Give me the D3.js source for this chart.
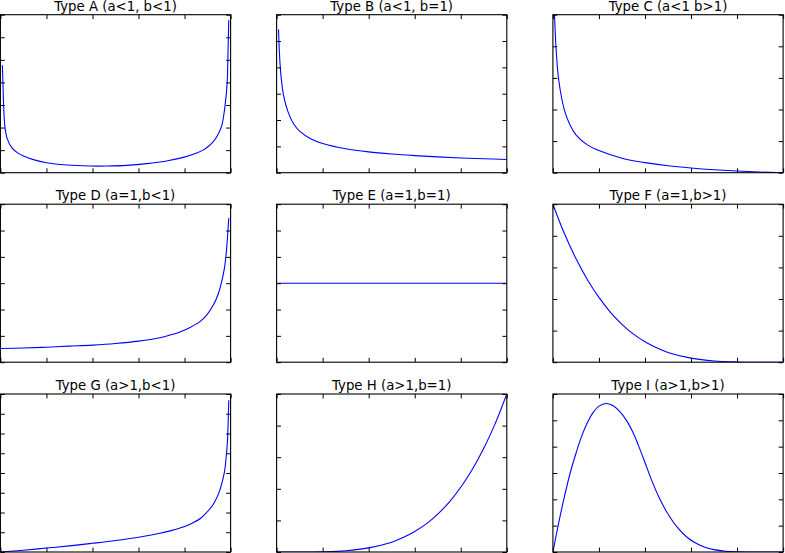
<!DOCTYPE html>
<html><head><meta charset="utf-8">
<script src="https://cdn.jsdelivr.net/npm/d3@7"></script>
<style>body{margin:0;background:#fff}svg{display:block}</style>
</head><body><div id="chart"></div>
<script>
const titles = ["Type A (a<1, b<1)","Type B (a<1, b=1)","Type C (a<1 b>1)","Type D (a=1,b<1)","Type E (a=1,b=1)","Type F (a=1,b>1)","Type G (a>1,b<1)","Type H (a>1,b=1)","Type I (a>1,b>1)"];

const xA = [0.0084,0.011,0.014,0.02,0.03,0.05,0.075,0.1,0.143,0.2,0.288,0.389,0.462,0.549,0.636,0.722,0.795,0.85,0.88,0.9,0.925,0.945,0.961,0.976,0.985,0.988,0.992];
const yA = [2.38,2.0,1.49,1.0,0.75,0.55,0.44,0.37,0.29,0.22,0.17,0.148,0.148,0.162,0.2,0.26,0.34,0.43,0.5,0.57,0.69,0.84,1.03,1.49,1.99,2.5,3.38];
const xB = [0.0084,0.012,0.016,0.02,0.03,0.05,0.075,0.1,0.15,0.2,0.3,0.4,0.5,0.6,0.7,0.8,0.9,1.0];
const yB = [5.44,4.6,4.0,3.6,2.95,2.3,1.84,1.58,1.28,1.11,0.91,0.79,0.71,0.65,0.6,0.56,0.53,0.5];
const xC = [0.007,0.01,0.015,0.025,0.05,0.075,0.1,0.15,0.2,0.3,0.4,0.5,0.6,0.7,0.8,0.9,1.0];
const yC = [5.0,4.45,3.8,2.95,1.98,1.5,1.2,0.88,0.70,0.46,0.32,0.22,0.15,0.095,0.053,0.02,0];
const xD = [0,0.1,0.2,0.3,0.4,0.5,0.6,0.693,0.737,0.78,0.824,0.867,0.896,0.925,0.947,0.961,0.973,0.98,0.986,0.989,0.992];
const yD = [0.52,0.54,0.57,0.61,0.65,0.71,0.8,0.93,1.03,1.15,1.32,1.54,1.79,2.17,2.61,3.05,3.56,4.06,4.69,5.07,5.47];
const xE = [0,1];
const yE = [1,1];
const xF = [0,0.05,0.1,0.15,0.2,0.25,0.3,0.35,0.4,0.45,0.5,0.6,0.7,0.8,0.9,1.0];
const yF = [5.0,4.07,3.28,2.61,2.05,1.58,1.2,0.89,0.65,0.46,0.31,0.13,0.04,0.008,0,0];
const xG = [0,0.1,0.2,0.3,0.4,0.5,0.6,0.693,0.737,0.78,0.824,0.867,0.896,0.925,0.947,0.961,0.973,0.98,0.986,0.989,0.992];
const yG = [0,0.09,0.2,0.31,0.44,0.58,0.75,0.95,1.07,1.21,1.41,1.68,2.0,2.42,2.93,3.44,4.03,4.71,5.56,6.4,7.68];
const xH = [0,0.1,0.2,0.3,0.4,0.5,0.55,0.6,0.65,0.7,0.75,0.8,0.85,0.9,0.95,1.0];
const yH = [0,0,0.008,0.04,0.13,0.31,0.46,0.65,0.89,1.2,1.58,2.05,2.61,3.28,4.07,5.0];
const xI = [0,0.025,0.05,0.075,0.1,0.125,0.15,0.175,0.2,0.231,0.26,0.29,0.321,0.35,0.371,0.4,0.43,0.465,0.5,0.538,0.58,0.62,0.66,0.7,0.75,0.8,0.85,1.0];
const yI = [0,0.55,1.05,1.5,1.87,2.2,2.46,2.65,2.77,2.82,2.78,2.67,2.49,2.25,2.03,1.7,1.35,1.0,0.72,0.48,0.29,0.17,0.09,0.045,0.015,0.004,0,0];

const yMin  = [0,0,0,0,0.94,0,0,0,0];
const yMax  = [3.5,6,5,6,1.06,5,8,5,3];
const yStep = [0.5,1,1,1,0.02,1,1,1,0.5];
const xTicks = [0,0.2,0.4,0.6,0.8,1.0];

const series = [[xA,yA],[xB,yB],[xC,yC],[xD,yD],[xE,yE],[xF,yF],[xG,yG],[xH,yH],[xI,yI]];

const W = 785, H = 553;
const colX = [0.4, 276.6, 552.9], pw = 230.2;
const rowY = [14.7, 204.2, 394], ph = 158;
const tickLen = 4.4;

const svg = d3.select("#chart").append("svg").attr("width", W).attr("height", H);
svg.append("rect").attr("width", W).attr("height", H).attr("fill", "#fff");

series.forEach(([xs, ys], i) => {
  const c = i % 3, r = Math.floor(i / 3);
  const g = svg.append("g").attr("transform", `translate(${colX[c]},${rowY[r]})`);
  const x = d3.scaleLinear().domain([0, 1]).range([0, pw]);
  const y = d3.scaleLinear().domain([yMin[i], yMax[i]]).range([ph, 0]);
  const n = Math.round((yMax[i] - yMin[i]) / yStep[i]);
  const yTicks = d3.range(n + 1).map(k => yMin[i] + k * yStep[i]);

  g.append("clipPath").attr("id", "clip" + i).append("rect").attr("width", pw).attr("height", ph);
  const pts = xs.map((v, k) => [v, ys[k]]);
  const line = d3.line().x(d => x(d[0])).y(d => y(d[1])).curve(d3.curveCatmullRom.alpha(0.5));
  g.append("path").datum(pts).attr("d", line).attr("fill", "none")
    .attr("stroke", "#0000ff").attr("stroke-width", 1.1).attr("clip-path", `url(#clip${i})`);

  const axes = [
    g.append("g").attr("transform", `translate(0,${ph})`).call(d3.axisBottom(x).tickValues(xTicks).tickSize(-tickLen).tickFormat("")),
    g.append("g").call(d3.axisTop(x).tickValues(xTicks).tickSize(-tickLen).tickFormat("")),
    g.append("g").call(d3.axisLeft(y).tickValues(yTicks).tickSize(-tickLen).tickFormat("")),
    g.append("g").attr("transform", `translate(${pw},0)`).call(d3.axisRight(y).tickValues(yTicks).tickSize(-tickLen).tickFormat(""))
  ];
  axes.forEach(a => {
    a.select(".domain").remove();
    a.selectAll(".tick line").attr("stroke", "#000").attr("stroke-width", 1);
  });

  g.append("rect").attr("width", pw).attr("height", ph).attr("fill", "none")
    .attr("stroke", "#000").attr("stroke-width", 1.1);

  g.append("text").attr("x", pw / 2).attr("y", -4).attr("text-anchor", "middle")
    .attr("font-family", "DejaVu Sans").attr("font-size", "13.3px").attr("fill", "#000")
    .text(titles[i]);
});
</script>
</body></html>
